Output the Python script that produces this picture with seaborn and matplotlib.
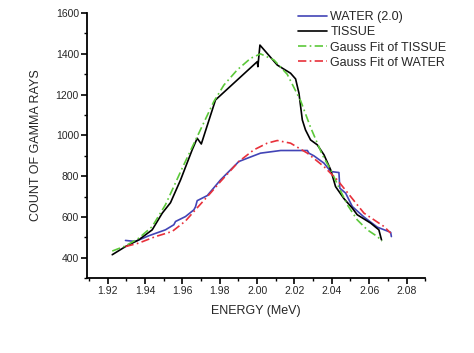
import matplotlib
matplotlib.use("Agg")
import matplotlib.pyplot as plt
from matplotlib.ticker import MultipleLocator
import pandas as pd
import seaborn as sns

# values
water_x = [1.9295, 1.9348, 1.9420, 1.9509, 1.9554, 1.9563, 1.9616, 1.9661, 1.9670, 1.9679,
           1.9733, 1.9804, 1.9902, 1.9947, 2.0018, 2.0126, 2.0269, 2.0277, 2.0304, 2.0358,
           2.0394, 2.0438, 2.0443, 2.0474, 2.0510, 2.0572, 2.0644, 2.0715, 2.0719]
water_y = [485, 480, 508, 537, 562, 578, 602, 635, 650, 680,
           705, 782, 872, 888, 913, 926, 926, 913, 900, 864,
           823, 818, 741, 717, 651, 600, 550, 525, 504]

tissue_x = [1.9224, 1.9295, 1.9366, 1.9438, 1.9492, 1.9536, 1.9590, 1.9652, 1.9679, 1.9701,
            1.9777, 2.0001, 2.0004, 2.0015, 2.0108, 2.0179, 2.0206, 2.0224, 2.0242, 2.0259,
            2.0286, 2.0322, 2.0358, 2.0394, 2.0420, 2.0465, 2.0510, 2.0536, 2.0608, 2.0652,
            2.0666]
tissue_y = [415, 455, 488, 537, 619, 670, 782, 929, 986, 958,
            1174, 1362, 1337, 1443, 1345, 1305, 1277, 1207, 1076, 1027,
            978, 954, 905, 831, 749, 690, 643, 611, 570, 537,
            488]

fit_tissue_x = [1.9224, 1.9295, 1.9366, 1.9438, 1.9509, 1.9599, 1.9679, 1.9768, 1.9822, 1.9893,
                1.9965, 2.0018, 2.0090, 2.0161, 2.0233, 2.0286, 2.0349, 2.0394, 2.0438, 2.0483,
                2.0536, 2.0590, 2.0644, 2.0669]
fit_tissue_y = [433, 458, 496, 553, 660, 840, 994, 1166, 1247, 1321,
                1378, 1400, 1370, 1300, 1170, 1040, 905, 831, 745, 660,
                586, 537, 504, 482]

fit_water_x = [1.9295, 1.9366, 1.9456, 1.9545, 1.9616, 1.9679, 1.9750, 1.9804, 1.9902, 1.9982,
               2.0054, 2.0108, 2.0179, 2.0269, 2.0358, 2.0429, 2.0501, 2.0572, 2.0626, 2.0680,
               2.0715]
fit_water_y = [455, 472, 504, 529, 580, 645, 717, 774, 872, 929,
               962, 975, 962, 913, 847, 782, 700, 619, 586, 553,
               521]

series = [
    ("WATER (2.0)", water_x, water_y, "#4244b6", "-"),
    ("TISSUE", tissue_x, tissue_y, "black", "-"),
    ("Gauss Fit of TISSUE", fit_tissue_x, fit_tissue_y, "#5cc83a", (0, (5, 2, 1, 2))),
    ("Gauss Fit of WATER", fit_water_x, fit_water_y, "#e8303a", (0, (5, 2, 1, 2))),
]

sns.set_theme(style="ticks")
plt.rcParams["font.family"] = ["Liberation Sans", "DejaVu Sans"]

fig = plt.figure(figsize=(4.74, 3.53), dpi=100)
ax = fig.add_axes([0.184, 0.212, 0.713, 0.751])

for label, xs, ys, color, ls in series:
    df = pd.DataFrame({"x": xs, "y": ys})
    sns.lineplot(data=df, x="x", y="y", sort=False, estimator=None, color=color,
                 linewidth=1.2, linestyle=ls, label=label, ax=ax)

ax.set_xlim(1.909, 2.09)
ax.set_ylim(300, 1600)
ax.xaxis.set_major_locator(MultipleLocator(0.02))
ax.xaxis.set_minor_locator(MultipleLocator(0.01))
ax.yaxis.set_major_locator(MultipleLocator(200))
ax.yaxis.set_minor_locator(MultipleLocator(100))
ax.set_xticklabels([f"{t:.2f}" for t in ax.get_xticks()])
ax.tick_params(which="major", length=4, width=1.2, labelsize=7.5, pad=2, color="black")
ax.tick_params(which="minor", length=2, width=1.0, color="black")
sns.despine(ax=ax)
for s in ("left", "bottom"):
    ax.spines[s].set_linewidth(1.3)
    ax.spines[s].set_color("black")

ax.set_xlabel("ENERGY (MeV)", fontsize=9, labelpad=6)
ax.set_ylabel("COUNT OF GAMMA RAYS", fontsize=9, labelpad=10)

ax.legend(loc="upper right", bbox_to_anchor=(1.085, 1.035), frameon=False, fontsize=9,
          handlelength=2.3, handletextpad=0.3, labelspacing=0.25, borderaxespad=0.2)

fig.savefig("out.png", dpi=100)
